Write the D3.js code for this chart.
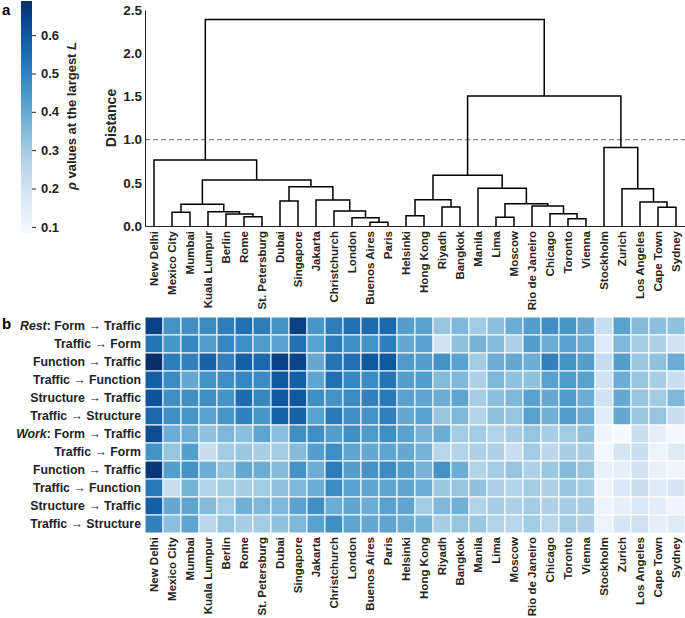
<!DOCTYPE html>
<html>
<head>
<meta charset="utf-8">
<script src="https://cdn.jsdelivr.net/npm/d3@7"></script>
<style>
  body { margin: 0; background: #fff; }
  svg { font-family: "Liberation Sans", Arial, sans-serif; font-weight: bold; }
</style>
</head>
<body>
<svg id="chart" width="685" height="618"></svg>
<script>
const cities = ['New Delhi', 'Mexico City', 'Mumbai', 'Kuala Lumpur', 'Berlin', 'Rome',
  'St. Petersburg', 'Dubai', 'Singapore', 'Jakarta', 'Christchurch', 'London',
  'Buenos Aires', 'Paris', 'Helsinki', 'Hong Kong', 'Riyadh', 'Bangkok', 'Manila',
  'Lima', 'Moscow', 'Rio de Janeiro', 'Chicago', 'Toronto', 'Vienna', 'Stockholm',
  'Zurich', 'Los Angeles', 'Cape Town', 'Sydney']

// linkage rows: [left, right, distance], numbers point at earlier rows
const merges = [
  ['Buenos Aires', 'Paris', 0.042],    // 0
  ['Toronto', 'Vienna', 0.085],        // 1
  ['London', 0, 0.096],                // 2
  ['Lima', 'Moscow', 0.100],           // 3
  ['Rome', 'St. Petersburg', 0.108],   // 4
  ['Helsinki', 'Hong Kong', 0.119],    // 5
  ['Berlin', 4, 0.139],                // 6
  ['Chicago', 1, 0.143],               // 7
  ['Mexico City', 'Mumbai', 0.158],    // 8
  ['Kuala Lumpur', 6, 0.166],          // 9
  ['Christchurch', 2, 0.174],          // 10
  ['Cape Town', 'Sydney', 0.216],      // 11
  ['Riyadh', 'Bangkok', 0.220],        // 12
  ['Rio de Janeiro', 7, 0.231],        // 13
  [8, 9, 0.251],                       // 14
  [3, 13, 0.258],                      // 15
  ['Los Angeles', 11, 0.278],          // 16
  ['Dubai', 'Singapore', 0.289],       // 17
  ['Jakarta', 10, 0.301],              // 18
  [5, 12, 0.305],                      // 19
  ['Zurich', 16, 0.430],               // 20
  ['Manila', 15, 0.436],               // 21
  [17, 18, 0.455],                     // 22
  [14, 22, 0.532],                     // 23
  [19, 21, 0.587],                     // 24
  ['New Delhi', 23, 0.764],            // 25
  ['Stockholm', 20, 0.910],            // 26
  [24, 26, 1.505],                     // 27
  [25, 27, 2.390]                      // 28
]
const cutoff = 1.0
const distTicks = [0, 0.5, 1.0, 1.5, 2.0, 2.5]

const modes = ['Rest', 'Work']
const pairs = ['Form \u2192 Traffic', 'Traffic \u2192 Form', 'Function \u2192 Traffic',
  'Traffic \u2192 Function', 'Structure \u2192 Traffic', 'Traffic \u2192 Structure']

// rho values, one array per row, columns in city order
const restFormTraffic = [0.65,0.46,0.47,0.48,0.51,0.54,0.51,0.46,0.65,0.45,0.51,0.54,0.55,0.56,0.43,0.42,0.32,0.36,0.30,0.34,0.39,0.43,0.47,0.45,0.40,0.22,0.42,0.35,0.34,0.33]
const restTrafficForm = [0.53,0.45,0.49,0.43,0.49,0.47,0.44,0.42,0.54,0.42,0.51,0.47,0.46,0.51,0.40,0.42,0.20,0.33,0.37,0.35,0.28,0.43,0.39,0.42,0.39,0.16,0.36,0.30,0.28,0.21]
const restFunctionTraffic = [0.69,0.51,0.50,0.57,0.50,0.58,0.56,0.65,0.64,0.40,0.53,0.54,0.60,0.60,0.44,0.43,0.46,0.42,0.30,0.39,0.40,0.39,0.50,0.46,0.43,0.23,0.43,0.31,0.33,0.39]
const restTrafficFunction = [0.58,0.48,0.40,0.46,0.47,0.49,0.48,0.60,0.58,0.41,0.54,0.49,0.48,0.53,0.43,0.43,0.35,0.36,0.28,0.36,0.33,0.33,0.42,0.44,0.42,0.20,0.39,0.32,0.29,0.22]
const restStructureTraffic = [0.61,0.47,0.47,0.47,0.46,0.55,0.49,0.60,0.60,0.47,0.46,0.48,0.50,0.52,0.42,0.41,0.39,0.41,0.29,0.34,0.36,0.42,0.40,0.44,0.39,0.20,0.40,0.32,0.30,0.36]
const restTrafficStructure = [0.56,0.47,0.45,0.42,0.45,0.50,0.45,0.57,0.57,0.42,0.52,0.47,0.46,0.50,0.40,0.42,0.32,0.36,0.27,0.33,0.32,0.42,0.38,0.43,0.39,0.15,0.40,0.31,0.32,0.22]
const workFormTraffic = [0.62,0.39,0.39,0.33,0.36,0.34,0.41,0.34,0.47,0.47,0.43,0.47,0.44,0.47,0.42,0.37,0.39,0.30,0.30,0.27,0.29,0.32,0.29,0.30,0.33,0.11,0.09,0.22,0.14,0.10]
const workTrafficForm = [0.46,0.32,0.43,0.23,0.30,0.31,0.29,0.30,0.35,0.43,0.47,0.41,0.40,0.41,0.40,0.37,0.26,0.27,0.28,0.28,0.22,0.30,0.25,0.29,0.29,0.10,0.19,0.22,0.12,0.16]
const workFunctionTraffic = [0.67,0.43,0.46,0.39,0.33,0.40,0.39,0.35,0.46,0.39,0.51,0.43,0.46,0.48,0.43,0.37,0.46,0.39,0.27,0.30,0.32,0.28,0.31,0.35,0.32,0.13,0.14,0.20,0.13,0.11]
const workTrafficFunction = [0.52,0.22,0.37,0.27,0.30,0.29,0.30,0.33,0.36,0.39,0.48,0.42,0.41,0.41,0.41,0.39,0.31,0.32,0.33,0.28,0.27,0.30,0.28,0.32,0.30,0.11,0.18,0.22,0.16,0.19]
const workStructureTraffic = [0.58,0.40,0.41,0.35,0.30,0.38,0.36,0.36,0.42,0.47,0.39,0.41,0.39,0.42,0.41,0.30,0.36,0.38,0.27,0.29,0.28,0.30,0.28,0.29,0.29,0.12,0.14,0.18,0.15,0.11]
const workTrafficStructure = [0.50,0.34,0.41,0.26,0.32,0.29,0.30,0.33,0.36,0.42,0.47,0.41,0.40,0.41,0.39,0.37,0.29,0.32,0.31,0.27,0.26,0.30,0.26,0.30,0.28,0.12,0.19,0.21,0.14,0.16]

const rhoRows = [restFormTraffic, restTrafficForm, restFunctionTraffic, restTrafficFunction,
  restStructureTraffic, restTrafficStructure, workFormTraffic, workTrafficForm,
  workFunctionTraffic, workTrafficFunction, workStructureTraffic, workTrafficStructure]

const colorDomain = [0.084, 0.689]
const colorTicks = [0.1, 0.2, 0.3, 0.4, 0.5, 0.6]

function drawChart() {
  const svg = d3.select('#chart')
  const ink = '#222'

  const x = d3.scaleBand().domain(cities).range([145, 685])
  const cx = c => x(c) + x.bandwidth() / 2
  const yD = d3.scaleLinear().domain([0, 2.5]).range([226, 10])
  const color = d3.scaleSequential(d3.interpolateBlues).domain(colorDomain)

  // ---- panel a: dendrogram
  function toNode(ref) {
    if (typeof ref === 'string') return { name: ref, dist: 0 }
    const m = merges[ref]
    return { name: 'm' + ref, dist: m[2], children: [toNode(m[0]), toNode(m[1])] }
  }
  const root = d3.hierarchy(toNode(merges.length - 1))
  root.eachAfter(d => {
    d.px = d.children ? d3.mean(d.children, c => c.px) : cx(d.data.name)
  })

  svg.append('line')
    .attr('x1', 145).attr('x2', 685)
    .attr('y1', yD(cutoff)).attr('y2', yD(cutoff))
    .attr('stroke', '#888')
    .attr('stroke-width', 1.3)
    .attr('stroke-dasharray', '5,3')

  svg.append('g')
    .selectAll('path')
    .data(root.descendants().filter(d => d.children))
    .join('path')
    .attr('d', d => {
      const [a, b] = d.children
      return `M${a.px},${yD(a.data.dist)}V${yD(d.data.dist)}H${b.px}V${yD(b.data.dist)}`
    })
    .attr('fill', 'none')
    .attr('stroke', '#000')
    .attr('stroke-width', 1.5)

  const yAxis = svg.append('g')
    .attr('transform', 'translate(145,0)')
    .call(d3.axisLeft(yD).tickValues(distTicks).tickFormat(d3.format('.1f')).tickSize(0).tickPadding(3))
  yAxis.select('.domain').attr('stroke', ink)
  yAxis.selectAll('text').attr('font-size', 13.5).attr('font-weight', 'bold').attr('fill', ink)

  const xAxisTop = svg.append('g')
    .attr('transform', 'translate(0,226)')
    .call(d3.axisBottom(x).tickSize(0).tickSizeOuter(0))
  xAxisTop.select('.domain').attr('stroke', ink)
  rotateLabels(xAxisTop, 5)

  svg.append('text')
    .attr('transform', 'translate(116,118) rotate(-90)')
    .attr('text-anchor', 'middle')
    .attr('font-size', 14)
    .attr('fill', ink)
    .text('Distance')

  // ---- colour bar
  const cb = d3.scaleLinear().domain(colorDomain).range([233, 1])
  const grad = svg.append('defs').append('linearGradient')
    .attr('id', 'cbar')
    .attr('x1', 0).attr('x2', 0).attr('y1', 1).attr('y2', 0)
  grad.selectAll('stop')
    .data(d3.range(0, 1.0001, 0.05))
    .join('stop')
    .attr('offset', d => d)
    .attr('stop-color', d => d3.interpolateBlues(d))
  svg.append('rect')
    .attr('x', 21).attr('y', cb(colorDomain[1]))
    .attr('width', 11).attr('height', cb(colorDomain[0]) - cb(colorDomain[1]))
    .attr('fill', 'url(#cbar)')
  const cbAxis = svg.append('g')
    .attr('transform', 'translate(32,0)')
    .call(d3.axisRight(cb).tickValues(colorTicks).tickFormat(d3.format('.1f')).tickSize(4).tickPadding(5))
  cbAxis.select('.domain').remove()
  cbAxis.selectAll('line').attr('stroke', ink)
  cbAxis.selectAll('text').attr('font-size', 13).attr('font-weight', 'bold').attr('fill', ink)

  const cbLabel = svg.append('text')
    .attr('transform', 'translate(76,116) rotate(-90)')
    .attr('text-anchor', 'middle')
    .attr('font-size', 13)
    .attr('fill', ink)
  cbLabel.append('tspan').attr('font-style', 'italic').text('\u03c1')
  cbLabel.append('tspan').text(' values at the largest ')
  cbLabel.append('tspan').attr('font-style', 'italic').text('L')

  // ---- panel b: heatmap
  const yH = d3.scaleBand().domain(d3.range(rhoRows.length)).range([317, 533])
  const cells = rhoRows.flatMap((row, r) => row.map((v, c) => ({ r, city: cities[c], v })))

  svg.append('g')
    .selectAll('rect')
    .data(cells)
    .join('rect')
    .attr('x', d => x(d.city))
    .attr('y', d => yH(d.r))
    .attr('width', x.bandwidth())
    .attr('height', yH.bandwidth())
    .attr('fill', d => color(d.v))
    .attr('stroke', '#fff')
    .attr('stroke-width', 1)

  const rowLabels = svg.append('g')
    .selectAll('text')
    .data(d3.range(rhoRows.length))
    .join('text')
    .attr('x', 141)
    .attr('y', r => yH(r) + yH.bandwidth() / 2)
    .attr('dy', '0.35em')
    .attr('text-anchor', 'end')
    .attr('font-size', 12.3)
    .attr('fill', ink)
  rowLabels.filter(r => r % pairs.length === 0)
    .append('tspan')
    .attr('font-style', 'italic')
    .text(r => modes[r / pairs.length])
  rowLabels.filter(r => r % pairs.length === 0)
    .append('tspan')
    .text(': ')
  rowLabels.append('tspan').text(r => pairs[r % pairs.length])

  const xAxisBottom = svg.append('g')
    .attr('transform', 'translate(0,533)')
    .call(d3.axisBottom(x).tickSize(0))
  xAxisBottom.select('.domain').remove()
  rotateLabels(xAxisBottom, 4)

  // panel letters
  svg.append('text').attr('x', 2).attr('y', 15).attr('font-size', 15).attr('fill', '#000').text('a')
  svg.append('text').attr('x', 2).attr('y', 329).attr('font-size', 15).attr('fill', '#000').text('b')

  function rotateLabels(g, pad) {
    g.selectAll('text')
      .attr('transform', 'rotate(-90)')
      .attr('text-anchor', 'end')
      .attr('x', -pad)
      .attr('y', 0)
      .attr('dy', '0.35em')
      .attr('font-size', 11.5)
      .attr('font-weight', 'bold')
      .attr('fill', ink)
  }
}

document.addEventListener('DOMContentLoaded', drawChart, false)
</script>
</body>
</html>
